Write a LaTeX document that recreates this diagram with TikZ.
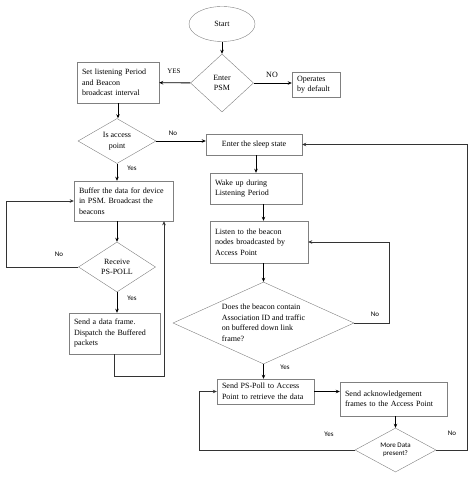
\documentclass[tikz,border=0pt]{standalone}
\usepackage{fontspec}
\setmainfont{Liberation Serif}
\newfontfamily\lblfont{Carlito}
\usetikzlibrary{shapes.geometric,arrows.meta}

\begin{document}
\begin{tikzpicture}[x=1pt,y=-1pt,
	every node/.style={font=\fontsize{8}{10.5}\selectfont},
	box/.style={draw=gray,rectangle,align=left,inner xsep=5pt,inner ysep=1pt,text width=#1},
	dia/.style={diamond,draw=gray,align=center,inner sep=0pt},
	lbl/.style={font=\lblfont\fontsize{7}{8}\selectfont},
	arr/.style={-{Stealth[length=4pt,width=3.5pt]},line width=0.9pt},
	ret/.style={-{Stealth[length=4pt,width=3.5pt]},line width=0.6pt,black!80}]
	\useasboundingbox (0,0) rectangle (474,478);
	\node[ellipse,draw=gray,minimum width=66pt,minimum height=35pt] (start) at (222,24) {Start};
	\node[dia,minimum width=63pt,minimum height=58pt] (psm) at (222,83) {Enter\\PSM};
	\node[box=72pt,minimum height=41pt] (setlp) at (118,82.5) {Set listening Period\\and Beacon\\broadcast interval};
	\node[box=38pt,minimum height=25pt] (ops) at (316,84.5) {Operates\\by default};
	\node[dia,aspect=1.73,minimum width=78pt,minimum height=45pt] (ap) at (117,141) {Is access\\point};
	\node[draw=gray,minimum width=96pt,minimum height=21pt,inner sep=0pt] (sleep) at (254,144.5) {Enter the sleep state};
	\node[box=89pt,minimum height=40pt] (buffer) at (123.5,201) {Buffer the data for device\\in PSM. Broadcast the\\beacons};
	\node[dia,aspect=1.54,minimum width=77pt,minimum height=50pt] (poll) at (117,267) {Receive\\PS-POLL};
	\node[box=81pt,minimum height=41pt] (send) at (114.5,333.5) {Send a data frame.\\Dispatch the Buffered\\packets};
	\node[box=82pt,minimum height=31pt] (wake) at (256,188.5) {Wake up during\\Listening Period};
	\node[box=88pt,minimum height=42pt] (listen) at (259,242) {Listen to the beacon\\nodes broadcasted by\\Access Point};
	\node[dia,aspect=2.2,minimum width=181pt,minimum height=82pt,align=left] (beacon) at (263.5,323) {Does the beacon contain\\Association ID and traffic\\on buffered down link\\frame?};
	\node[box=87pt,minimum height=25pt] (pspoll) at (265.5,391.5) {Send PS-Poll to Access\\Point to retrieve the data};
	\node[box=97pt,minimum height=34pt] (ack) at (393.5,399) {Send acknowledgement\\frames to the Access Point};
	\node[dia,aspect=1.84,minimum width=81pt,minimum height=44pt,lbl] (more) at (395.5,450) {More Data\\present?};
	\node[font=\fontsize{7}{8}\selectfont] (yes1) at (174,71) {YES};
	\node (no1) at (272,75) {NO};
	\node[lbl] (no2) at (173,133) {No};
	\node[lbl] (yes2) at (132,168) {Yes};
	\node[lbl] (no3) at (59,254) {No};
	\node[lbl] (yes3) at (132,298) {Yes};
	\node[lbl] (no4) at (375,314) {No};
	\node[lbl] (yes4) at (285,367) {Yes};
	\node[lbl] (yes5) at (329,434) {Yes};
	\node[lbl] (no5) at (452,433) {No};
	\coordinate (sendret) at (164,376);
	\path[arr]
		(start) edge (psm)
		(psm) edge (setlp)
		(psm.east) edge (psm.east -| ops.west)
		(setlp.south) edge (setlp.south |- ap.north)
		(ap) edge (ap -| sleep.west)
		(ap.south) edge (ap.south |- buffer.north)
		(buffer.south -| poll.north) edge (poll.north)
		(poll.south) edge (poll.south |- send.north)
		(wake.north |- sleep.south) edge (wake.north)
		(wake.south -| beacon.north) edge (beacon.north |- listen.north)
		(listen.south -| beacon.north) edge (beacon.north)
		(beacon.south) edge (beacon.south |- pspoll.north)
		(pspoll.east) edge (pspoll.east -| ack.west)
		(ack.south -| more.north) edge (more.north);
	\draw[ret] (poll.west) -- ++(-72,0) |- (buffer.west);
	\draw[ret] (send.south) |- (sendret) -- (sendret |- buffer.south);
	\draw[ret] (beacon.east) -- ++(35,0) |- (listen.east);
	\draw[ret] (more.west) -- ++(-156,0) |- (pspoll.west);
	\draw[ret] (more.east) -- ++(31,0) |- (sleep.east);
\end{tikzpicture}
\end{document}
